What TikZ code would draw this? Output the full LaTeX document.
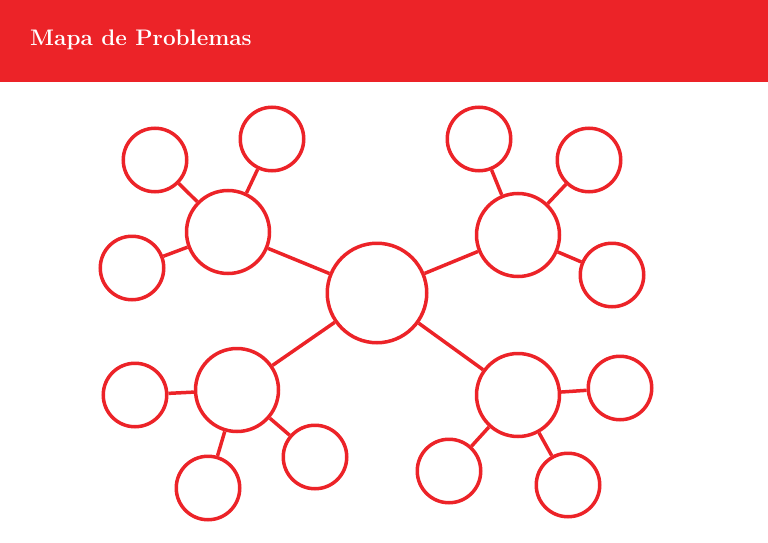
\documentclass[tikz,border=0pt]{standalone}
\usepackage{xcolor}
\usepackage{tikz}
\usetikzlibrary{positioning}
\definecolor{mapred}{RGB}{236,35,40}
\tikzset{
  bubble/.style={draw=mapred, circle, line width=3.5pt, fill=white, inner sep=0pt},
  core/.style={bubble, minimum size=99.5pt},
  hub/.style={bubble, minimum size=83pt},
  leaf/.style={bubble, minimum size=63.5pt},
  link/.style={draw=mapred, line width=3.5pt}
}
\begin{document}
\begin{tikzpicture}[x=1pt, y=-1pt]
        \useasboundingbox (0,0) rectangle (768,543);
        % Title band
        \fill[mapred] (0,0) rectangle (768,82);
        \node[anchor=base west, inner sep=0pt, text=white, font=\fontsize{22.5}{27}\selectfont\bfseries] (title) at (30,46) {Mapa de Problemas};
        
        % Central problem and the four hubs
        \node[core] (center) at (377,293) {};
        \node[hub] (tl) at (228,232) {};
        \node[hub] (tr) at (518,235) {};
        \node[hub] (bl) at (237,390) {};
        \node[hub] (br) at (518,395) {};
        
        % Leaves of each hub
        \node[leaf] (tl1) at (155,160) {};
        \node[leaf] (tl2) at (272,139) {};
        \node[leaf] (tl3) at (132,268) {};
        
        \node[leaf] (tr1) at (479,139) {};
        \node[leaf] (tr2) at (589,160) {};
        \node[leaf] (tr3) at (612,275) {};
        
        \node[leaf] (bl1) at (135,395) {};
        \node[leaf] (bl2) at (208,488) {};
        \node[leaf] (bl3) at (315,457) {};
        
        \node[leaf] (br1) at (620,388) {};
        \node[leaf] (br2) at (449,471) {};
        \node[leaf] (br3) at (568,485) {};
        
        % Connect hubs to the centre and leaves to hubs
        \draw[link] (center) -- (tl);
        \draw[link] (center) -- (tr);
        \draw[link] (center) -- (bl);
        \draw[link] (center) -- (br);
        \foreach \h in {tl,tr,bl,br}
            \foreach \i in {1,2,3}
                \draw[link] (\h) -- (\h\i);
    \end{tikzpicture}
\end{document}
